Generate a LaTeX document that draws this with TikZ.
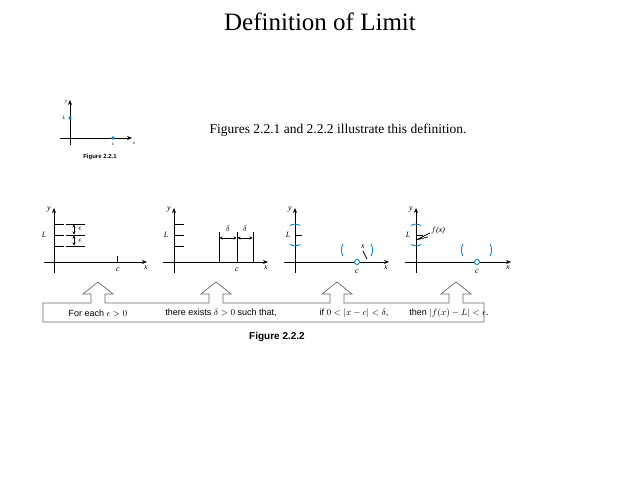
\documentclass[tikz,border=0pt]{standalone}
\usepackage{fontspec}
\setmainfont{Liberation Serif}
\setsansfont{Liberation Sans}
\usetikzlibrary{arrows.meta}
\begin{document}
\begin{tikzpicture}[x=1pt,y=-1pt,
  ax/.style={line width=0.8pt,-{Stealth[length=5pt,width=4pt]}},
  lb/.style={font=\fontsize{8}{9}\selectfont\itshape,inner sep=0pt},
  captext/.style={font=\sffamily\fontsize{9}{10}\selectfont,inner sep=0pt},
  bl/.style={draw=cyan!70!blue,line width=0.9pt},
  tk/.style={line width=0.7pt},
  dbl/.style={line width=0.5pt,{Stealth[length=3pt,width=3pt]}-{Stealth[length=3pt,width=3pt]}}]
\useasboundingbox (0,0) rectangle (638,478);
\node[font=\fontsize{25}{28}\selectfont] (title) at (320,22) {Definition of Limit};
\node[font=\fontsize{13.5}{15}\selectfont] (intro) at (338,130) {Figures 2.2.1 and 2.2.2 illustrate this definition.};
% Figure 2.2.1
\draw[ax] (70,145) -- (70,100);
\draw[ax] (60,138) -- (132,138);
\node[lb,font=\fontsize{5}{6}\selectfont\itshape] (y0) at (66,102) {y};
\node[lb,font=\fontsize{5}{6}\selectfont\itshape] (L0) at (64,118) {L};
\node[lb,font=\fontsize{5}{6}\selectfont\itshape] (c0) at (113,144) {c};
\node[lb,font=\fontsize{5}{6}\selectfont\itshape] (x0) at (134,143) {x};
\fill[cyan!70!blue] (70,118) circle (1.8);
\fill[cyan!70!blue] (113,138) circle (1.8);
\node[font=\sffamily\bfseries\fontsize{6}{7}\selectfont] (f221) at (100,157) {Figure 2.2.1};
% Panel 1
\draw[ax] (54,273) -- (54,208);
\draw[ax] (44,262) -- (147,262);
\node[lb] (y1) at (49,210) {y}; \node[lb] (L1) at (44,235) {L};
\node[lb] (c1) at (118,270) {c}; \node[lb] (x1) at (146,268) {x};
\foreach \yy in {224,235,246}{\draw[tk] (54,\yy) -- (64,\yy); \draw[tk] (66,\yy) -- (85,\yy);}
\draw[tk] (117,256) -- (117,262);
\draw[dbl] (74,224.5) -- (74,234.5);
\draw[dbl] (74,235.5) -- (74,245.5);
\node[lb] (e1) at (80,229) {$\epsilon$}; \node[lb] (e2) at (80,241) {$\epsilon$};
% Panel 2
\draw[ax] (174,273) -- (174,208);
\draw[ax] (163,262) -- (268,262);
\node[lb] (y2) at (169,210) {y}; \node[lb] (L2) at (166,235) {L};
\node[lb] (c2) at (237,270) {c}; \node[lb] (x2) at (266,268) {x};
\foreach \yy in {224,235,246}{\draw[tk] (174,\yy) -- (184,\yy);}
\foreach \xx in {219,237,253}{\draw[tk] (\xx,232) -- (\xx,262);}
\draw[dbl] (219.5,238) -- (236.5,238);
\draw[dbl] (237.5,238) -- (252.5,238);
\node[lb] (d1) at (228,229) {$\delta$}; \node[lb] (d2) at (245,229) {$\delta$};
% Panel 3
\draw[ax] (295,273) -- (295,208);
\draw[ax] (284,262) -- (389,262);
\node[lb] (y3) at (290,210) {y}; \node[lb] (L3) at (288,235) {L};
\node[lb] (c3) at (357,272) {c}; \node[lb] (x3) at (386,268) {x};
\draw[tk] (295,235) -- (302,235);
\draw[bl] (290,225.5) arc (240:300:10);
\draw[bl] (290,244.5) arc (120:60:10);
\draw[bl] (343,256) arc (150:210:12);
\draw[bl] (371,256) arc (30:-30:12);
\draw[bl,fill=white] (357,262) circle (2.5);
\node[lb] (xx3) at (363,247) {x};
\draw[tk] (363,251) -- (367,259);
% Panel 4
\draw[ax] (416,273) -- (416,208);
\draw[ax] (405,262) -- (511,262);
\node[lb] (y4) at (411,210) {y}; \node[lb] (L4) at (408,235) {L};
\node[lb] (c4) at (477,272) {c}; \node[lb] (x4) at (508,268) {x};
\draw[bl] (411,225.5) arc (240:300:10);
\draw[bl] (411,244.5) arc (120:60:10);
\draw[bl] (463,256) arc (150:210:12);
\draw[bl] (490,256) arc (30:-30:12);
\draw[bl,fill=white] (477,262) circle (2.5);
\draw[tk] (416,235) -- (423,235);
\draw[tk] (416,240) -- (430,233) (416,240) -- (428,237);
\node[lb,anchor=west] (fx) at (431,231) {$f$(x)};
% caption box with arrows
\draw[line width=0.7pt,draw=black!60] (43,322) -- (43,303)
  foreach \a in {98,216,337,456}{ -- (\a-7,303) -- (\a-7,294) -- (\a-15,294) -- (\a,282) -- (\a+15,294) -- (\a+7,294) -- (\a+7,303)}
  -- (484,303) -- (484,322) -- cycle;
\node[captext] (t1) at (98,313) {For each $\epsilon>0$};
\node[captext] (t2) at (221,313) {there exists $\delta>0$ such that,};
\node[captext] (t3) at (354,313) {if $0<|x-c|<\delta$,};
\node[captext] (t4) at (449,313) {then $|f(x)-L|<\epsilon$.};
\node[font=\sffamily\bfseries\fontsize{10}{11}\selectfont] (f222) at (277,337) {Figure 2.2.2};
\end{tikzpicture}
\end{document}
